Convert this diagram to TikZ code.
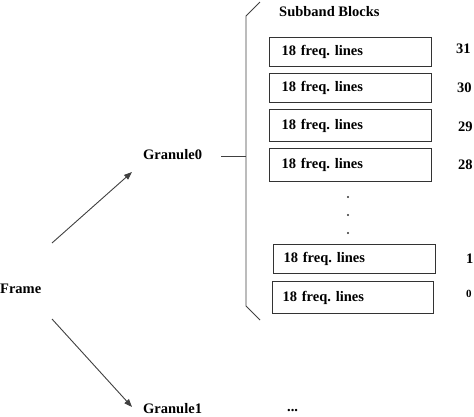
\documentclass[tikz,border=0pt]{standalone}
\usepackage{fontspec}
\setmainfont{Liberation Serif}
\usetikzlibrary{arrows.meta}
\begin{document}
\frenchspacing
\begin{tikzpicture}[x=1pt,y=-1pt,
  lbl/.style={inner sep=0pt,anchor=base west,font=\bfseries\fontsize{14.5}{16}\selectfont},
  blk/.style={draw=black!80,line width=1.1pt,anchor=north west,text width=138pt,
    inner xsep=12pt,inner ysep=0pt,align=left,font=\bfseries\fontsize{14.5}{16}\selectfont},
  ln/.style={draw=black!75,line width=0.9pt},
  arr/.style={ln,-{Triangle[length=8pt,width=6pt]}}]
\useasboundingbox (0,0) rectangle (474,416);
% labels
\node[lbl] (frame) at (0,293) {Frame};
\node[lbl] (g0) at (143,159) {Granule0};
\node[lbl] (g1) at (143,413) {Granule1};
\node[lbl] (sub) at (279,16) {Subband Blocks};
\node[lbl] (more) at (287,411) {...};
% arrows
\coordinate (a1s) at (52,243);
\coordinate (a1e) at (132,172);
\coordinate (a2s) at (52,319);
\coordinate (a2e) at (132,407);
\draw[arr] (a1s) -- (a1e);
\draw[arr] (a2s) -- (a2e);
% brace
\coordinate (bt) at (260,2);
\coordinate (bt2) at (246,16);
\coordinate (bb2) at (246,306);
\coordinate (bb) at (260,320);
\coordinate (bm) at (246,156);
\coordinate (stub) at (221,156);
\draw[ln] (bt) -- (bt2) -- (bb2) -- (bb);
\draw[ln] (stub) -- (bm);
% blocks
\node[blk,minimum height=29pt] (b1) at (269,37) {18 freq. lines};
\node[blk,minimum height=29pt] (b2) at (269,73) {18 freq. lines};
\node[blk,minimum height=32pt] (b3) at (269,109) {18 freq. lines};
\node[blk,minimum height=33pt] (b4) at (269,148) {18 freq. lines};
\node[blk,minimum height=29pt,inner xsep=10pt,text width=142pt] (b5) at (273,244) {18 freq. lines};
\node[blk,minimum height=32pt,inner xsep=10pt,text width=141pt] (b6) at (272,281) {18 freq. lines};
% dots
\fill[black!80] (348,197) circle (1.1pt);
\fill[black!80] (348,215) circle (1.1pt);
\fill[black!80] (348,233) circle (1.1pt);
% numbers
\node[lbl] (n31) at (456,53) {31};
\node[lbl] (n30) at (457,92) {30};
\node[lbl] (n29) at (458,131) {29};
\node[lbl] (n28) at (458,169) {28};
\node[lbl] (n1) at (466,263) {1};
\node[lbl,font=\bfseries\fontsize{11}{13}\selectfont] (n0) at (466,297) {0};
\end{tikzpicture}
\end{document}
